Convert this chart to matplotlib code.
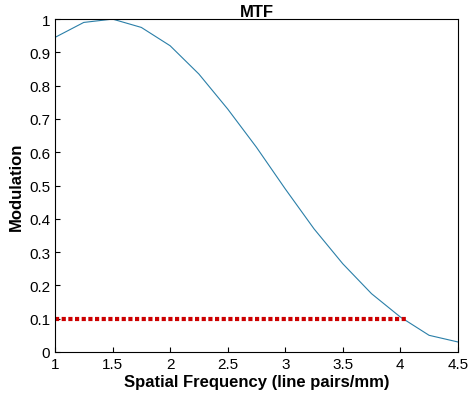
import matplotlib
matplotlib.use("Agg")
import matplotlib.pyplot as plt

freq = [1.0, 1.25, 1.5, 1.75, 2.0, 2.25, 2.5, 2.75, 3.0, 3.25, 3.5, 3.75, 4.0, 4.25, 4.5]
mtf = [0.945, 0.99, 1.0, 0.975, 0.92, 0.835, 0.73, 0.615, 0.49, 0.37, 0.265, 0.175, 0.105, 0.05, 0.03]
thr_x = [1.0, 4.05]
thr_y = [0.1, 0.1]

plt.rcParams['font.family'] = ['Liberation Sans', 'DejaVu Sans']
fig = plt.figure(figsize=(4.74, 4.02), dpi=100)
ax = fig.add_axes([0.116, 0.122, 0.850, 0.828])
ax.plot(freq, mtf, color='#2a7fa8', lw=0.8)
ax.plot(thr_x, thr_y, color='#cc0000', lw=3, ls=(0, (1, 0.6)))
ax.set_xlim(1, 4.5)
ax.set_ylim(0, 1)
ax.set_xticks([1, 1.5, 2, 2.5, 3, 3.5, 4, 4.5])
ax.set_xticklabels(['1', '1.5', '2', '2.5', '3', '3.5', '4', '4.5'])
ax.set_yticks([i / 10 for i in range(11)])
ax.set_yticklabels(['0', '0.1', '0.2', '0.3', '0.4', '0.5', '0.6', '0.7', '0.8', '0.9', '1'])
ax.tick_params(labelsize=11, direction='in')
ax.set_xlabel('Spatial Frequency (line pairs/mm)', fontsize=12, fontweight='bold', labelpad=2)
ax.set_ylabel('Modulation', fontsize=12, fontweight='bold', labelpad=4)
ax.set_title('MTF', fontsize=12, fontweight='bold', pad=2)
fig.savefig('out.png', dpi=100)
